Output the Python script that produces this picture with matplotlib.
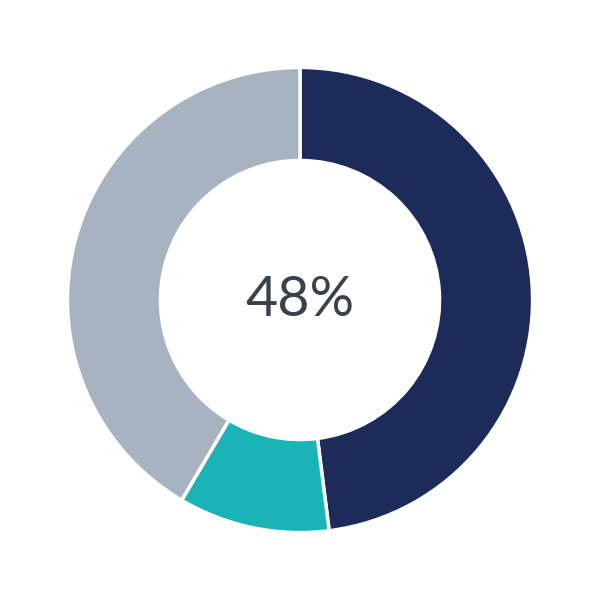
import matplotlib.pyplot as plt

labels = ["A", "B", "C"]
values = [48, 10.5, 41.5]
colors = ["#1c2b5a", "#1ab4b6", "#a8b3c2"]
center_text = "48%"

fig, ax = plt.subplots(figsize=(6, 6), dpi=100)
fig.subplots_adjust(left=0, right=1, bottom=0, top=1)

ax.pie(values, colors=colors, startangle=90, counterclock=False,
       radius=1.0,
       wedgeprops=dict(width=0.4, edgecolor="white", linewidth=2.5))
ax.text(0, 0, center_text, ha="center", va="center", fontsize=40,
        color="#3a414c", family="Lato")
ax.set_xlim(-1.29, 1.29)
ax.set_ylim(-1.29, 1.29)
ax.set_aspect("equal")
ax.axis("off")

plt.savefig("out.png", dpi=100)
